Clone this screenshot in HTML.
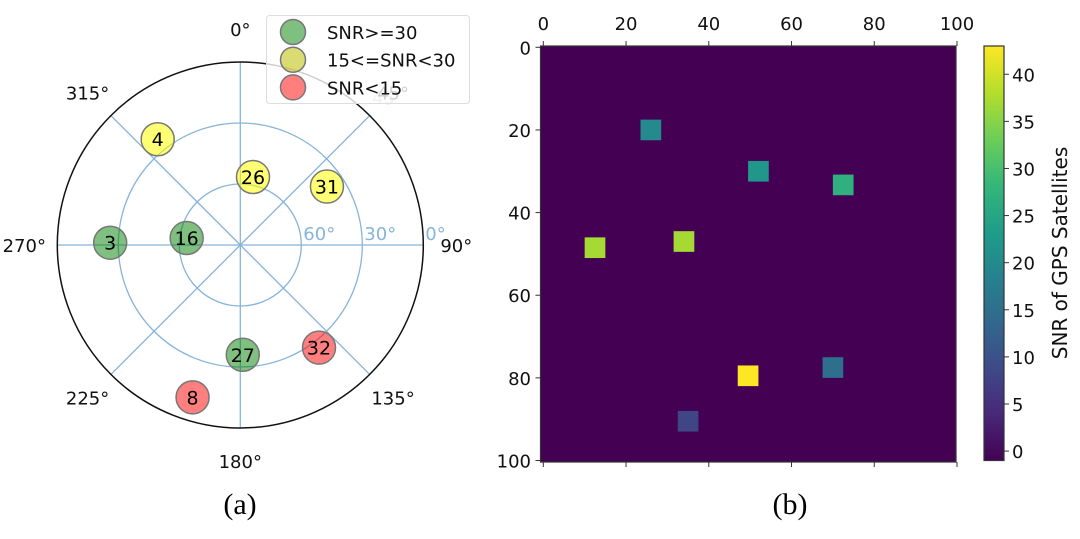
<!DOCTYPE html>
<html><head><meta charset="utf-8"><style>
html,body{margin:0;padding:0;background:#fff;}
svg{display:block;font-family:"DejaVu Sans","Liberation Sans",sans-serif;}
</style></head><body>
<svg id="fig" width="1080" height="539" viewBox="0 0 1080 539">
<g id="polar"></g>
<g id="heat"></g>
<text x="240" y="514" font-family="Liberation Serif,serif" font-size="30" text-anchor="middle">(a)</text>
<text x="790" y="514" font-family="Liberation Serif,serif" font-size="30" text-anchor="middle">(b)</text>
</svg>
<script>
// ---- polar data ----
const satIds=[4,26,31,3,16,27,32,8];
const satAz=[322,10.6,56,271,277.4,178.7,142.5,197.4];
const satElev=[24,56,38.6,26,63.4,36,26.4,11.5];
const satClass=[1,1,1,0,0,0,2,2];
const classLabels=["SNR>=30","15<=SNR<30","SNR<15"];
const ringElev=[60,30,0];
const azTicks=[0,45,90,135,180,225,270,315];
// ---- heatmap data ----
const cellX=[26,52,72.5,12.5,34,49.5,70,35];
const cellY=[20,30,33.3,48.5,47,79.5,77.5,90.5];
const cellVal=[20,22,27,37,37,43,15,8];
const axisTicks=[0,20,40,60,80,100];
const cbarTicks=[0,5,10,15,20,25,30,35,40];
const NS="http://www.w3.org/2000/svg";
function mk(p,t,a,txt){const e=document.createElementNS(NS,t);for(const k in a)e.setAttribute(k,a[k]);if(txt!==undefined)e.textContent=txt;p.appendChild(e);return e;}
// polar
const P=document.getElementById('polar');
const cx=240.3,cy=245,R=183;
const rOf=el=>(90-el)/90*R;
function pt(az,el){const r=rOf(el),a=az*Math.PI/180;return [cx+r*Math.sin(a),cy-r*Math.cos(a)];}
azTicks.forEach(a=>{const[x,y]=pt(a,0);const l=mk(P,'line',{x1:cx,y1:cy,x2:x,y2:y,stroke:'#86b4da','stroke-width':1.3});
});
ringElev.slice(0,2).forEach(e=>{const c=mk(P,'circle',{cx:cx,cy:cy,r:rOf(e),fill:'none',stroke:'#86b4da','stroke-width':1.3});
});
const oc=mk(P,'circle',{cx:cx,cy:cy,r:R,fill:'none',stroke:'#111','stroke-width':1.5});

ringElev.forEach(e=>{const t=mk(P,'text',{x:cx+rOf(e)+2,y:cy-5,'font-size':18,fill:'#86b4da'},e+'°');
});
const t45=mk(P,'text',{x:372,y:104,'font-size':18,fill:'#bbb'},'45');

azTicks.forEach(a=>{const r=R+33,ang=a*Math.PI/180;const x=cx+r*Math.sin(ang),y=cy-r*Math.cos(ang)+7;
const t=mk(P,'text',{x:x,y:y,'font-size':18,'text-anchor':'middle',fill:'#111'},a+'°');
});
const cols=['rgba(0,128,0,0.5)','rgba(255,255,0,0.55)','rgba(255,0,0,0.5)'];
const lcols=['rgba(0,128,0,0.5)','rgba(190,190,0,0.55)','rgba(255,0,0,0.5)'];
satIds.forEach((id,i)=>{const[x,y]=pt(satAz[i],satElev[i]);
const c=mk(P,'circle',{cx:x,cy:y,r:16.5,fill:cols[satClass[i]],stroke:'#777','stroke-width':1.5});

const t=mk(P,'text',{x:x,y:y+7,'font-size':19,'text-anchor':'middle',fill:'#000'},String(id));
});
// legend
const lg=mk(P,'g',{});
mk(lg,'rect',{x:266.5,y:15.5,width:203,height:88,rx:3,fill:'rgba(255,255,255,0.8)',stroke:'#ddd'});
classLabels.forEach((l,i)=>{const y=32+i*27.7;
const c=mk(lg,'circle',{cx:293,cy:y,r:12.5,fill:lcols[i],stroke:'#777','stroke-width':1.5});

const t=mk(lg,'text',{x:327,y:y+7,'font-size':18,fill:'#111'},l);
});
// heatmap
const H=document.getElementById('heat');
const x0=543.3,x1=957,y0=47.3,y1=460.5;
const sx=v=>x0+(x1-x0)*v/100, sy=v=>y0+(y1-y0)*v/100;
const vmin=-1,vmax=43;
const vir=[[68,1,84],[72,40,120],[62,74,137],[49,104,142],[38,130,142],[31,158,137],[53,183,121],[110,206,88],[181,222,43],[253,231,37]];
function cmap(v){let t=(v-vmin)/(vmax-vmin);t=Math.max(0,Math.min(1,t))*(vir.length-1);const i=Math.min(Math.floor(t),vir.length-2),f=t-i;
const c=vir[i].map((a,k)=>Math.round(a+(vir[i+1][k]-a)*f));return 'rgb('+c+')';}
const bg=mk(H,'rect',{x:540.5,y:46,width:956-540.5,height:462-46,fill:cmap(vmin),stroke:'#333','stroke-width':1.2});

cellX.forEach((cx_,i)=>{const w=sx(5)-sx(0),h=sy(5)-sy(0);
const r=mk(H,'rect',{x:sx(cx_)-w/2,y:sy(cellY[i])-h/2,width:w,height:h,fill:cmap(cellVal[i])});
});
axisTicks.forEach(v=>{
const tx=mk(H,'text',{x:sx(v),y:30,'font-size':18,'text-anchor':'middle',fill:'#111'},String(v));

mk(H,'line',{x1:sx(v),y1:46,x2:sx(v),y2:41,stroke:'#333'});
mk(H,'line',{x1:sx(v),y1:462,x2:sx(v),y2:467,stroke:'#333'});
const ty=mk(H,'text',{x:531,y:sy(v)+7,'font-size':18,'text-anchor':'end',fill:'#111'},String(v));

mk(H,'line',{x1:540.5,y1:sy(v),x2:535.5,y2:sy(v),stroke:'#333'});});
// colorbar
const cbx=984,cbw=20,cbt=46,cbb=460.5;
const cy_=v=>cbb+(cbt-cbb)*(v-vmin)/(vmax-vmin);
const defs=mk(H,'defs',{});const gr=mk(defs,'linearGradient',{id:'vg',x1:0,y1:1,x2:0,y2:0});
vir.forEach((c,i)=>mk(gr,'stop',{offset:i/(vir.length-1),'stop-color':'rgb('+c+')'}));
const cb=mk(H,'rect',{x:cbx,y:cbt,width:cbw,height:cbb-cbt,fill:'url(#vg)',stroke:'#333','stroke-width':1.2});

cbarTicks.forEach(v=>{mk(H,'line',{x1:cbx+cbw,y1:cy_(v),x2:cbx+cbw+5,y2:cy_(v),stroke:'#333'});
const t=mk(H,'text',{x:cbx+cbw+8,y:cy_(v)+7,'font-size':18,fill:'#111'},String(v));
});
const ct=mk(H,'text',{x:0,y:0,'font-size':20,'text-anchor':'middle',fill:'#111',transform:'translate(1067,253) rotate(-90)'},'SNR of GPS Satellites');

</script>
</body></html>
